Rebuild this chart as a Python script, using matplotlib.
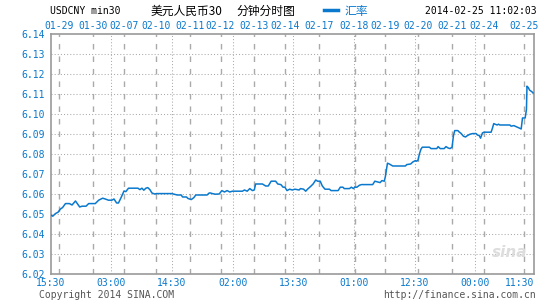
"""
USDCNY 30分钟分时图 (新浪财经样式) 的复刻。
"""

import matplotlib
matplotlib.use("Agg")
import matplotlib.pyplot as plt
from matplotlib.transforms import blended_transform_factory


# 折线顶点：x 为 30 分钟K线序号，y 为汇率
bar_idx = [
    0.0, 0.8, 1.8, 2.8, 3.7, 4.5, 5.6, 7.1, 8.1, 9.4, 11.0, 11.9, 13.4, 14.4,
    16.9, 18.2, 19.7, 20.7, 21.9, 23.2, 24.0, 25.0, 25.7, 26.8, 27.8, 28.5,
    29.5, 33.1, 33.8, 34.6, 35.3, 36.1, 36.8, 37.6, 38.4, 39.4, 40.1, 45.9,
    46.5, 48.0, 49.5, 50.0, 51.5, 52.0, 53.3, 54.3, 55.0, 59.3, 60.1, 60.6,
    61.3, 62.4, 63.9, 64.9, 65.9, 66.9, 67.9, 68.9, 72.7, 73.5, 74.5, 75.5,
    76.5, 77.2, 77.7, 80.3, 81.5, 82.5, 83.6, 85.3, 86.1, 87.3, 88.1, 88.8,
    89.6, 90.6, 91.6, 92.6, 94.2, 94.7, 95.9, 96.7, 97.4, 98.5, 99.5, 100.5,
    101.2, 102.2, 103.0, 104.0, 105.7, 106.3, 109.0, 109.8, 110.8, 111.3,
    113.3, 114.0, 114.8, 115.3, 116.1, 117.1, 117.9, 122.1, 122.9, 124.0,
    124.9, 125.6, 126.5, 126.9, 127.7, 128.4, 129.2, 129.7, 134.5, 135.0,
    136.5, 137.3, 138.3, 138.8, 139.3, 139.8, 140.4, 140.9, 143.6, 144.2,
    146.4, 146.9, 147.7, 149.2, 149.9, 150.7, 151.4, 152.2, 152.7, 153.2,
    154.4, 154.9, 155.6, 156.5, 157.3, 158.0, 159.0, 160.0, 161.3, 161.8,
    162.5, 163.0, 163.7, 164.3, 167.0, 167.5, 168.0, 168.5, 169.3, 169.8,
    170.3, 174.1, 174.6, 175.6, 176.8, 177.8, 178.4, 178.9, 179.9, 180.4,
    180.6, 181.1, 181.6, 182.4, 182.9,
]
rate = [
    6.0495, 6.0489, 6.0502, 6.0509, 6.0525, 6.0532, 6.0552, 6.0552, 6.0545,
    6.0565, 6.0535, 6.0539, 6.0539, 6.0552, 6.0552, 6.0569, 6.0579, 6.0575,
    6.0569, 6.0569, 6.0575, 6.0555, 6.0555, 6.0585, 6.0615, 6.0612, 6.0629,
    6.0629, 6.0622, 6.0629, 6.0619, 6.0629, 6.0632, 6.0622, 6.0605, 6.0600,
    6.0602, 6.0602, 6.0600, 6.0595, 6.0595, 6.0585, 6.0585, 6.0578, 6.0572,
    6.0582, 6.0595, 6.0595, 6.0605, 6.0605, 6.0602, 6.0599, 6.0600, 6.0617,
    6.0610, 6.0617, 6.0610, 6.0614, 6.0614, 6.0620, 6.0614, 6.0627, 6.0617,
    6.0620, 6.0650, 6.0650, 6.0640, 6.0640, 6.0664, 6.0664, 6.0650, 6.0647,
    6.0634, 6.0634, 6.0617, 6.0624, 6.0620, 6.0624, 6.0620, 6.0627, 6.0624,
    6.0614, 6.0624, 6.0637, 6.0650, 6.0670, 6.0664, 6.0664, 6.0640, 6.0624,
    6.0624, 6.0617, 6.0617, 6.0634, 6.0634, 6.0627, 6.0627, 6.0634, 6.0627,
    6.0634, 6.0634, 6.0644, 6.0647, 6.0647, 6.0664, 6.0660, 6.0657, 6.0667,
    6.0664, 6.0687, 6.0754, 6.0750, 6.0744, 6.0740, 6.0740, 6.0747, 6.0750,
    6.0760, 6.0767, 6.0764, 6.0770, 6.0800, 6.0824, 6.0834, 6.0834, 6.0827,
    6.0827, 6.0837, 6.0827, 6.0827, 6.0837, 6.0830, 6.0827, 6.0834, 6.0890,
    6.0917, 6.0917, 6.0910, 6.0903, 6.0889, 6.0885, 6.0892, 6.0899, 6.0902,
    6.0902, 6.0895, 6.0892, 6.0879, 6.0905, 6.0909, 6.0909, 6.0929, 6.0952,
    6.0949, 6.0945, 6.0949, 6.0945, 6.0945, 6.0939, 6.0942, 6.0935, 6.0929,
    6.0925, 6.0980, 6.0980, 6.1022, 6.1139, 6.1132, 6.1119, 6.1112, 6.1105,
]

# 每个交易日起点（虚线）及顶部日期标签
day_start = [3.1, 16.0, 27.8, 39.8, 53.0, 64.4, 77.0, 88.7, 101.6, 115.2,
             126.6, 139.2, 152.1, 164.4, 179.6]
day_labels = ["01-29", "01-30", "02-07", "02-10", "02-11", "02-12", "02-13",
              "02-14", "02-17", "02-18", "02-19", "02-20", "02-21", "02-24",
              "02-25"]

# 底部时间刻度（每 23 根K线一个）
time_ticks = [0, 23, 46, 69, 92, 115, 138, 161, 183.3]
time_labels = ["15:30", "03:00", "14:30", "02:00", "13:30", "01:00", "12:30",
               "00:00", "11:30"]

y_ticks = [6.02, 6.03, 6.04, 6.05, 6.06, 6.07, 6.08, 6.09, 6.10, 6.11, 6.12,
           6.13, 6.14]

BLUE = "#0a78cc"
GRID = "#aaaaaa"
MONO = "DejaVu Sans Mono"
CJK = ["Noto Sans CJK SC", "DejaVu Sans"]

fig = plt.figure(figsize=(5.45, 3.0), dpi=100)
ax = fig.add_axes([0.093, 0.0867, 0.887, 0.80])

ax.set_xlim(0, 183.3)
ax.set_ylim(6.02, 6.14)

# 网格：水平点线、每 23 根K线的竖点线、日分隔虚线
for v in y_ticks[1:-1]:
    ax.axhline(v, color=GRID, lw=0.75, dashes=(1, 2), zorder=1)
for t in time_ticks[1:-1]:
    ax.axvline(t, color=GRID, lw=0.75, dashes=(1, 2), zorder=1)
for d in day_start:
    ax.axvline(d, color=GRID, lw=1.0, dashes=(4, 5), zorder=1.5)

ln, = ax.plot(bar_idx, rate, color=BLUE, lw=1.1, zorder=3, label="汇率")

for sp in ax.spines.values():
    sp.set_color("#999999")
    sp.set_linewidth(1.2)

ax.set_yticks(y_ticks)
ax.set_yticklabels([f"{v:.2f}" for v in y_ticks], family=MONO, fontsize=7,
                   color=BLUE)
ax.tick_params(axis="y", length=0, pad=4)

ax.set_xticks(time_ticks)
ax.set_xticklabels(time_labels, family=MONO, fontsize=7, color=BLUE)
ax.get_xticklabels()[-1].set_ha("right")
ax.tick_params(axis="x", length=0, pad=3)

# 顶部日期
trans = blended_transform_factory(ax.transData, ax.transAxes)
for d, lab in zip(day_start, day_labels):
    ax.text(d, 1.012, lab, transform=trans, ha="center", va="bottom",
            family=MONO, fontsize=7, color=BLUE, clip_on=False)

# 标题行
fig.text(0.092, 0.963, "USDCNY min30", family=MONO, fontsize=7, va="center")
fig.text(0.277, 0.963, "美元人民币30", family=CJK, fontsize=8.5, va="center")
fig.text(0.433, 0.963, "分钟分时图", family=CJK, fontsize=8.5, va="center")
fig.text(0.984, 0.963, "2014-02-25 11:02:03", family=MONO, fontsize=7,
         va="center", ha="right")
leg = fig.legend(handles=[ln], loc="center left", bbox_to_anchor=(0.595, 0.963),
                 frameon=False, handlelength=1.2, handletextpad=0.5,
                 borderpad=0, borderaxespad=0, prop={"family": CJK, "size": 8.5})
leg.get_lines()[0].set_linewidth(2.5)
for txt in leg.get_texts():
    txt.set_color(BLUE)

# 底部版权
fig.text(0.072, 0.017, "Copyright 2014 SINA.COM", family=MONO, fontsize=7,
         color="#555555", va="center")
fig.text(0.984, 0.017, "http://finance.sina.com.cn", family=MONO, fontsize=7,
         color="#555555", va="center", ha="right")

# 水印
ax.text(0.985, 0.06, "sina", transform=ax.transAxes, ha="right", va="bottom",
        fontsize=11, fontweight="bold", style="italic", color="#dddddd",
        zorder=2)

fig.savefig("out.png", dpi=100)
